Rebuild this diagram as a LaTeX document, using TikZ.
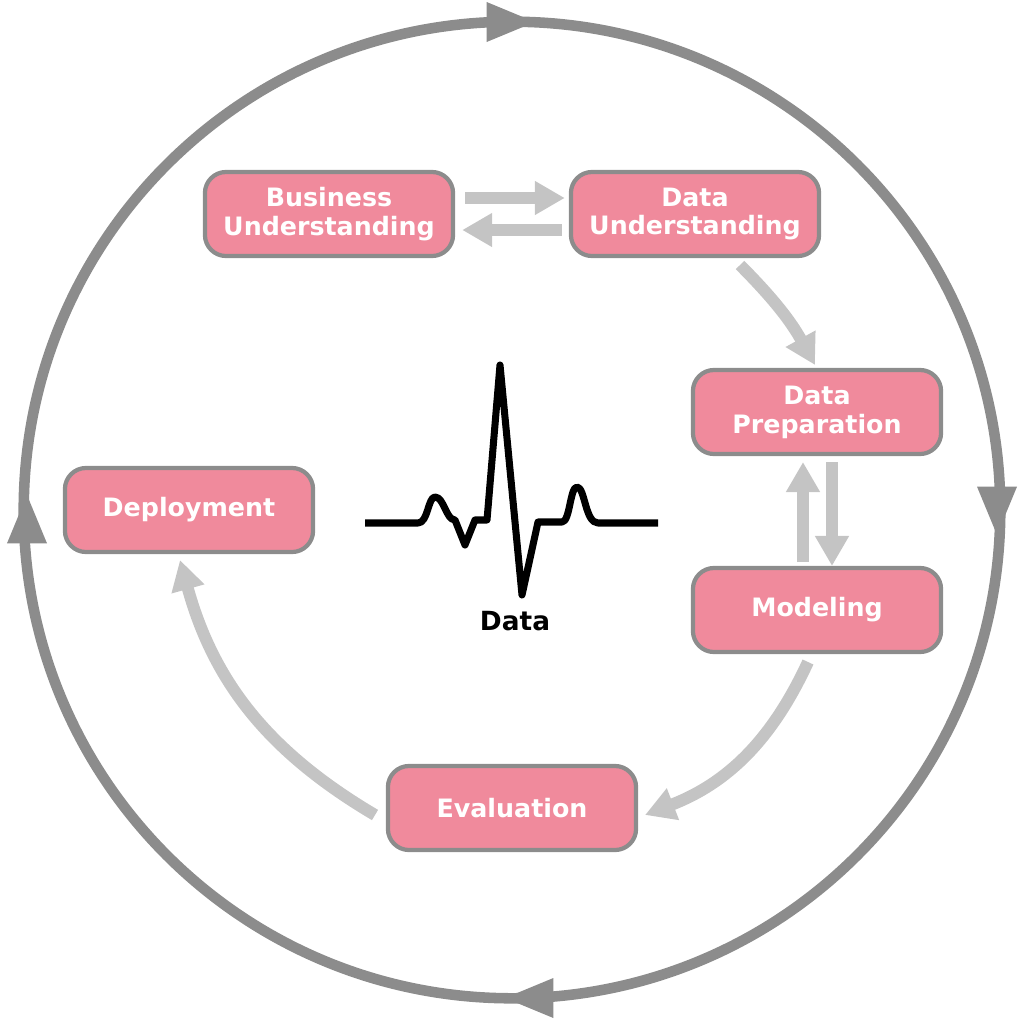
\documentclass[tikz,border=0pt]{standalone}
\usepackage{fontspec}
\setmainfont{DejaVu Sans}
\usetikzlibrary{arrows.meta,shapes.geometric}
\definecolor{boxpink}{HTML}{F08A9C}
\definecolor{ringgray}{HTML}{8C8C8C}
\definecolor{flowgray}{HTML}{C4C4C4}
\tikzset{
  phase/.style={draw=ringgray,line width=1.2pt,fill=boxpink,rounded corners=6pt,
    minimum width=2.48cm,minimum height=0.84cm,align=center,text=white,
    font=\fontsize{7.2}{8.2}\selectfont\bfseries},
  flow/.style={draw=flowgray,line width=3.4pt,-{Triangle[length=0.3cm,width=0.32cm]}},
  ring/.style={draw=ringgray,line width=3pt}
}
\begin{document}
\begin{tikzpicture}[x=0.01cm,y=-0.01cm]
\useasboundingbox (0,0) rectangle (1024,1024);
% outer cycle
\draw[ring] (512,510) circle (4.88cm);
\foreach \p/\a in {{(500,22)}/0,{(997,500)}/-90,{(540,998)}/180,{(27,530)}/90}
  \node[fill=ringgray,isosceles triangle,inner sep=0pt,minimum height=0.44cm,
        minimum width=0.4cm,shape border rotate=\a] at \p {};
% phases
\node[phase] (bus) at (329,214) {Business\\Understanding};
\node[phase] (dat) at (695,214) {Data\\Understanding};
\node[phase] (prep) at (817,412) {Data\\Preparation};
\node[phase] (mod) at (817,610) {Modeling};
\node[phase] (eval) at (512,808) {Evaluation};
\node[phase] (dep) at (189,510) {Deployment};
% flows
\draw[flow] ([xshift=0.1cm,yshift=0.16cm]bus.east) -- ([xshift=-0.04cm,yshift=0.16cm]dat.west);
\draw[flow] ([xshift=-0.07cm,yshift=-0.16cm]dat.west) -- ([xshift=0.07cm,yshift=-0.16cm]bus.east);
\draw[flow] (740,265) to[bend left=8] (815,365);
\draw[flow] (803,562) -- (803,462);
\draw[flow] (832,462) -- (832,566);
\draw[flow] (808,662) to[bend left=22] (645,815);
\draw[flow] (375,815) to[bend left=22] (180,560);
% centre signal
\draw[line width=2pt,line join=round] (365,523) -- (418,523)
  .. controls (428,523) and (428,497) .. (435,497)
  .. controls (444,497) and (446,520) .. (455,520)
  -- (465,545) -- (475,520) -- (487,520) -- (500,365) -- (522,595) -- (538,522)
  -- (562,522) .. controls (570,522) and (570,487) .. (577,487)
  .. controls (585,487) and (585,523) .. (598,523) -- (658,523);
\node[font=\fontsize{7.5}{9}\selectfont\bfseries] (sig) at (515,621) {Data};
\end{tikzpicture}
\end{document}
